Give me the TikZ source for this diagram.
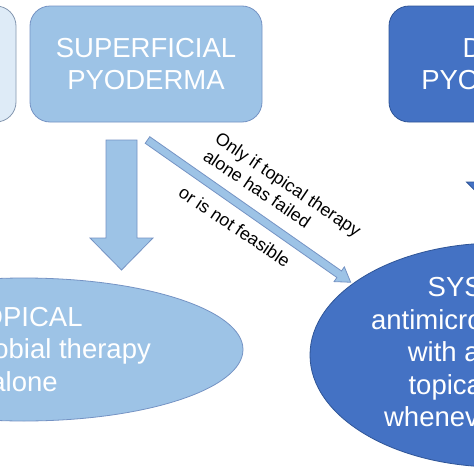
\documentclass[tikz,border=0pt]{standalone}
\usepackage{fontspec}
\setmainfont{Liberation Sans}
\usetikzlibrary{shapes.geometric}
\definecolor{lightfill}{HTML}{9DC3E6}
\definecolor{lightline}{HTML}{7593C4}
\definecolor{palefill}{HTML}{DEEBF7}
\definecolor{paleline}{HTML}{8497B0}
\definecolor{darkfill}{HTML}{4472C4}
\definecolor{darkline}{HTML}{2F5597}
\begin{document}
\begin{tikzpicture}[x=1pt,y=1pt,
  bigtext/.style={text=white, font=\fontsize{27.5}{32.5}\selectfont, align=center, inner sep=0pt},
  stagebox/.style={rounded corners=20pt, line width=0.8pt, inner sep=0pt, minimum width=232pt, minimum height=116pt},
  oval/.style={ellipse, line width=0.8pt, inner sep=0pt},
  blockarrow/.style={line width=0.8pt, line join=miter},
  lbl/.style={font=\fontsize{17.8}{21}\selectfont, inner sep=0pt, anchor=base west, transform shape}
]
\useasboundingbox (0,0) rectangle (474,-474);
\clip (0,0) rectangle (474,-474);
\fill[white] (0,0) rectangle (474,-474);

% top row boxes
\node[stagebox, fill=palefill, draw=paleline] (mild) at (-100,-64) {};
\node[stagebox, fill=lightfill, draw=lightline] (superficial) at (146,-64) {};
\node[bigtext] (superficialtext) at (superficial.center) {SUPERFICIAL\\PYODERMA};
\node[stagebox, fill=darkfill, draw=darkline, minimum width=222pt] (deep) at (500,-64) {};
\node[bigtext] (deeptext) at (deep.center) {DEEP\\PYODERMA};

% bottom ellipses
\node[oval, fill=lightfill, draw=lightline, minimum width=438pt, minimum height=143pt] (topical) at (24,-349.5) {};
\node[bigtext] (topicaltext) at (topical.center) {TOPICAL\\antimicrobial therapy\\alone};
\node[oval, fill=darkfill, draw=darkline, minimum width=376pt, minimum height=224pt] (systemic) at (498,-355) {};
\node[bigtext] (systemictext) at (systemic.center) {SYSTEMIC\\antimicrobial therapy\\with adjunctive\\topical therapy\\whenever possible};

% block arrows
\draw[blockarrow, fill=lightfill, draw=lightline]
  (106,-140) -- (137,-140) -- (137,-238) -- (153,-238) -- (121.5,-270) -- (90,-238) -- (106,-238) -- cycle;
\draw[blockarrow, fill=darkfill, draw=darkline]
  (482.5,-130) -- (513.5,-130) -- (513.5,-182) -- (529.5,-182) -- (498,-214) -- (466.5,-182) -- (482.5,-182) -- cycle;
\begin{scope}[shift={(147.5,-140)}, rotate=-35]
  \draw[blockarrow, fill=lightfill, draw=lightline]
    (0,4) -- (234,4) -- (234,9) -- (248,0) -- (234,-9) -- (234,-4) -- (0,-4) -- cycle;
\end{scope}

% labels of the diagonal arrow
\begin{scope}[shift={(213.6,-141.5)}, rotate=-34]
  \node[lbl] (cond1) at (0,0) {Only if topical therapy};
  \node[lbl] (cond2) at (0,-21) {alone has failed};
  \node[lbl] (cond3) at (0,-65) {or is not feasible};
\end{scope}
\end{tikzpicture}
\end{document}
